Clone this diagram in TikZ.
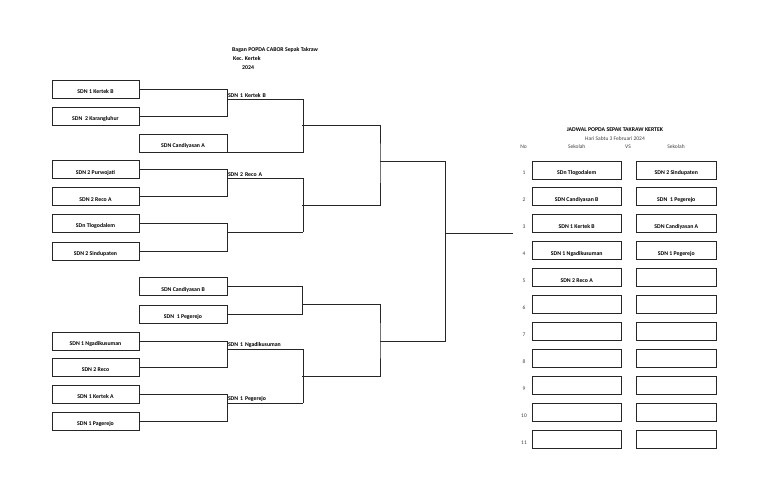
\documentclass[tikz,border=0pt]{standalone}
\usepackage{fontspec}
\setmainfont{Carlito}
\usetikzlibrary{positioning}

\tikzset{
  team/.style={draw=black!85, line width=0.8pt, minimum width=87pt, minimum height=18pt,
    inner sep=0pt, text height=9pt, text depth=0pt, font=\fontsize{5.8}{6.5}\selectfont\bfseries},
  slot/.style={anchor=south west, minimum width=75pt, text width=74pt, align=left,
    inner xsep=0.8pt, inner ysep=1.2pt, font=\fontsize{5.8}{6.5}\selectfont\bfseries},
  bline/.style={draw=black!85, line width=0.75pt},
  nobox/.style={font=\fontsize{5.5}{6.5}\selectfont, text=black!75, inner sep=0pt, anchor=base},
}

\begin{document}
\begin{tikzpicture}[x=1pt, y=-1pt]
  \useasboundingbox (0,0) rectangle (768,500);

  % Judul bagan
  \node[anchor=base west, inner sep=0pt, font=\fontsize{5.8}{6.5}\selectfont\bfseries] (judul1) at (232,52) {Bagan POPDA CABOR Sepak Takraw};
  \node[anchor=base west, inner sep=0pt, font=\fontsize{5.8}{6.5}\selectfont\bfseries] (judul2) at (233,61) {Kec. Kertek};
  \node[anchor=base west, inner sep=0pt, font=\fontsize{5.8}{6.5}\selectfont\bfseries] (judul3) at (242,70) {2024};

  % Peserta babak pertama
  \foreach \id/\y/\nama in {
    b1/89.5/{SDN 1 Kertek B},
    b2/116/{SDN \ 2 Karangluhur},
    b4/169.5/{SDN 2 Purwojati},
    b5/196.5/{SDN 2 Reco A},
    b6/223/{SDn Tlogodalem},
    b7/251/{SDN 2 Sindupaten},
    b10/341/{SDN 1 Ngadikusuman},
    b11/367/{SDN 2 Reco},
    b12/394/{SDN 1 Kertek A},
    b13/421/{SDN 1 Pagerejo}%
  } {
    \node[team] (\id) at (95.5,\y) {\nama};
  }
  % Peserta babak kedua
  \node[team, minimum width=88pt] (ca) at (183,143) {SDN Candiyasan A};
  \node[team, minimum width=88pt] (cb) at (183,286.5) {SDN Candiyasan B};
  \node[team, minimum width=88pt] (pg) at (183,314) {SDN \ 1 Pegerejo};

  % Slot pemenang
  \node[slot] (w1) at (227,99) {SDN 1 Kertek B};
  \node[slot] (w2) at (227,178) {SDN 2 Reco A};
  \node[slot] (w3) at (227,232) {};
  \node[slot] (w4) at (227,349) {SDN 1 Ngadikusuman};
  \node[slot] (w5) at (227,403) {SDN 1 Pegerejo};
  \foreach \w in {w1,w2,w3,w4,w5}
    \draw[bline] (\w.south west) -- (\w.south east);

  % Garis babak pertama
  \foreach \a/\b in {b1/b2, b4/b5, b6/b7, b10/b11, b12/b13}
    \draw[bline] (\a.east) -- ++(88,0) |- (\b.east);

  % Garis babak kedua
  \draw[bline] (w1.south east) |- (ca.south east);
  \draw[bline] (w2.south east) -- (w3.south east);
  \draw[bline] (cb.east) -- ++(75,0) |- (pg.east);
  \draw[bline] (w4.south east) -- (w5.south east);

  % Semifinal dan final
  \coordinate (r1) at (302,125);
  \coordinate (r2) at (302,205);
  \coordinate (r3) at (302,304);
  \coordinate (r4) at (302,376);
  \coordinate (s1) at (380,161);
  \coordinate (s2) at (380,341);
  \coordinate (juara) at (445,233);
  \coordinate (ujung) at (513,233);
  \draw[bline] (r1) -| (s1) |- (r2);
  \draw[bline] (r3) -| (s2) |- (r4);
  \draw[bline] (s1) -- ++(65,0) |- (s2);
  \draw[bline] (juara) -- (ujung);

  % Jadwal pertandingan
  \node[font=\fontsize{5.8}{6.5}\selectfont\bfseries, inner sep=0pt] (jadwal) at (615,130) {JADWAL POPDA SEPAK TAKRAW KERTEK};
  \node[font=\fontsize{5.5}{6.5}\selectfont, text=black!75, inner sep=0pt] (hari) at (615,138.5) {Hari Sabtu 3 Februari 2024};
  \node[nobox] (hno) at (523.5,149) {No};
  \node[nobox] (hsk1) at (576.7,149) {Sekolah};
  \node[nobox] (hvs) at (628,149) {VS};
  \node[nobox] (hsk2) at (676,149) {Sekolah};

  \foreach \kiri/\kanan [count=\r from 1] in {
    {SDn Tlogodalem}/{SDN 2 Sindupaten},
    {SDN Candiyasan B}/{SDN \ 1 Pegerejo},
    {SDN 1 Kertek B}/{SDN Candiyasan A},
    {SDN 1 Ngadikusuman}/{SDN 1 Pegerejo},
    {SDN 2 Reco A}/{},
    {}/{}, {}/{}, {}/{}, {}/{}, {}/{}, {}/{}%
  } {
    \pgfmathsetmacro{\y}{169.9 + (\r-1)*26.93}
    \node[nobox] (no\r) at (524,\y+5) {\r};
    \node[team, minimum width=88.7pt] (ka\r) at (576.7,\y) {\kiri};
    \node[team, minimum width=80.7pt] (kb\r) at (676.3,\y) {\kanan};
  }
\end{tikzpicture}
\end{document}
